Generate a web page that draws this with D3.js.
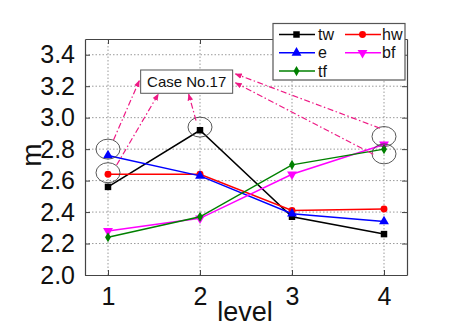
<!DOCTYPE html>
<html>
<head>
<meta charset="utf-8">
<script src="https://cdn.jsdelivr.net/npm/d3@7"></script>
<style>
  html, body { margin: 0; padding: 0; background: #fff; }
  svg text { font-family: "Liberation Sans", Arial, sans-serif; fill: #111; }
</style>
</head>
<body>
<svg id="chart" width="474" height="331"></svg>
<script>
// Levels on the x axis
const levels = [1, 2, 3, 4];
const yTicks = [2.0, 2.2, 2.4, 2.6, 2.8, 3.0, 3.2, 3.4];

// Mean response m for each factor at each level
const tw = [2.56, 2.92, 2.37, 2.26];
const hw = [2.64, 2.64, 2.41, 2.42];
const e  = [2.76, 2.63, 2.39, 2.34];
const bf = [2.28, 2.36, 2.64, 2.83];
const tf = [2.24, 2.37, 2.70, 2.80];

const seriesNames  = ["tw", "hw", "e", "bf", "tf"];
const seriesValues = [tw, hw, e, bf, tf];
const seriesColors = ["#000000", "#ff0000", "#0000ff", "#ff00ff", "#008000"];
const seriesMarks  = ["square", "circle", "triangle", "triangleDown", "diamond"];

// Highlighted points (level, m) and the callout label
const calloutText = "Case No.17";
const calloutBox = { x0: 1.355, x1: 2.355, y0: 3.155, y1: 3.303 };
const highlightPts = [[1, 2.80], [1, 2.65], [2, 2.94], [4, 2.88], [4, 2.77]];
// Arrows: [fromLevel, fromM, toLevel, toM]
const arrows = [
  [1.06, 2.858, 1.34, 3.235],
  [1.094, 2.699, 1.547, 3.150],
  [1.957, 2.981, 1.877, 3.150],
  [3.957, 2.933, 2.385, 3.278],
  [3.884, 2.767, 2.385, 3.222]
];

const svg = d3.select("#chart");
const L = 85, R = 407, T = 39, B = 275;

const x = d3.scaleLinear().domain([0.75, 4.25]).range([L, R]);
const y = d3.scaleLinear().domain([2.0, 3.5]).range([B, T]);

// dotted grid
const grid = svg.append("g");
grid.selectAll("line.gx").data(levels).join("line")
  .attr("x1", d => x(d)).attr("x2", d => x(d)).attr("y1", T).attr("y2", B)
  .attr("stroke", "#9a9a9a").attr("stroke-width", 1).attr("stroke-dasharray", "1.5,2");
grid.selectAll("line.gy").data(yTicks.slice(1)).join("line")
  .attr("x1", L).attr("x2", R).attr("y1", d => y(d)).attr("y2", d => y(d))
  .attr("stroke", "#9a9a9a").attr("stroke-width", 1).attr("stroke-dasharray", "1.5,2");

// axes with inward ticks
const axB = svg.append("g").attr("transform", `translate(0,${B})`)
  .call(d3.axisBottom(x).tickValues(levels).tickSizeInner(-5).tickSizeOuter(0).tickPadding(12).tickFormat(d3.format("d")));
const axT = svg.append("g").attr("transform", `translate(0,${T})`)
  .call(d3.axisTop(x).tickValues(levels).tickSizeInner(-5).tickSizeOuter(0).tickFormat(""));
const axL = svg.append("g").attr("transform", `translate(${L},0)`)
  .call(d3.axisLeft(y).tickValues(yTicks).tickSizeInner(-5).tickSizeOuter(0).tickPadding(10).tickFormat(d3.format(".1f")));
const axR = svg.append("g").attr("transform", `translate(${R},0)`)
  .call(d3.axisRight(y).tickValues(yTicks).tickSizeInner(-5).tickSizeOuter(0).tickFormat(""));

[axB, axT, axL, axR].forEach(a => {
  a.select(".domain").attr("stroke", "#444").attr("stroke-width", 1.2);
  a.selectAll(".tick line").attr("stroke", "#444");
});
axB.selectAll(".tick text").attr("font-size", 25).attr("fill", "#111")
  .attr("font-family", "Liberation Sans, Arial, sans-serif").attr("dy", "0.71em");
axL.selectAll(".tick text").attr("font-size", 25).attr("fill", "#111")
  .attr("font-family", "Liberation Sans, Arial, sans-serif");

// axis titles
svg.append("text").attr("x", 245).attr("y", 321).attr("text-anchor", "middle")
  .attr("font-size", 27).text("level");
svg.append("text").attr("transform", "translate(41,155) rotate(-90)")
  .attr("text-anchor", "middle").attr("font-size", 28).text("m");

// marker symbols
const symbolMap = {
  square: d3.symbolSquare, circle: d3.symbolCircle, triangle: d3.symbolTriangle,
  triangleDown: d3.symbolTriangle, diamond: d3.symbolDiamond
};
const symbolSize = { square: 42, circle: 38, triangle: 42, triangleDown: 42, diamond: 30 };
function marker(sel, kind, color) {
  sel.attr("d", d3.symbol().type(symbolMap[kind]).size(symbolSize[kind]))
    .attr("fill", color).attr("stroke", "none");
}

// series lines and markers
const line = d3.line().x((d, i) => x(levels[i])).y(d => y(d));
seriesValues.forEach((vals, si) => {
  const g = svg.append("g");
  g.append("path").datum(vals).attr("d", line)
    .attr("fill", "none").attr("stroke", seriesColors[si]).attr("stroke-width", 1.5);
  g.selectAll("path.m").data(vals).join("path").attr("class", "m")
    .call(marker, seriesMarks[si], seriesColors[si])
    .attr("transform", (d, i) => `translate(${x(levels[i])},${y(d)})` +
      (seriesMarks[si] === "triangleDown" ? " rotate(180)" : ""));
});

// highlight ellipses
svg.append("g").selectAll("ellipse").data(highlightPts).join("ellipse")
  .attr("cx", d => x(d[0])).attr("cy", d => y(d[1]))
  .attr("rx", 12).attr("ry", 10)
  .attr("fill", "none").attr("stroke", "#444").attr("stroke-width", 0.9);

// arrows pointing at the callout
const defs = svg.append("defs");
defs.append("marker").attr("id", "ah").attr("viewBox", "0 0 10 10")
  .attr("refX", 9).attr("refY", 5).attr("markerWidth", 7).attr("markerHeight", 7)
  .attr("markerUnits", "userSpaceOnUse").attr("orient", "auto")
  .append("path").attr("d", "M0,1 L10,5 L0,9 Z").attr("fill", "#ee1a85");
svg.append("g").selectAll("line").data(arrows).join("line")
  .attr("x1", d => x(d[0])).attr("y1", d => y(d[1]))
  .attr("x2", d => x(d[2])).attr("y2", d => y(d[3]))
  .attr("stroke", "#ee1a85").attr("stroke-width", 1.2)
  .attr("stroke-dasharray", "6,2.5,1.5,2.5").attr("marker-end", "url(#ah)");

// callout box
svg.append("rect")
  .attr("x", x(calloutBox.x0)).attr("y", y(calloutBox.y1))
  .attr("width", x(calloutBox.x1) - x(calloutBox.x0))
  .attr("height", y(calloutBox.y0) - y(calloutBox.y1))
  .attr("fill", "#fff").attr("stroke", "#555").attr("stroke-width", 1);
svg.append("text")
  .attr("x", (x(calloutBox.x0) + x(calloutBox.x1)) / 2)
  .attr("y", (y(calloutBox.y0) + y(calloutBox.y1)) / 2 + 5.5)
  .attr("text-anchor", "middle").attr("font-size", 15).text(calloutText);

// legend
const lg = svg.append("g").attr("transform", "translate(273,23.5)");
lg.append("rect").attr("width", 132).attr("height", 56.5)
  .attr("fill", "#fff").attr("stroke", "#555").attr("stroke-width", 1.2);
const legendPos = [[0, 0], [1, 0], [0, 1], [1, 1], [0, 2]];
seriesNames.forEach((name, si) => {
  const [c, r] = legendPos[si];
  const gx = c === 0 ? 6 : 72, gy = 11 + r * 18.3;
  const item = lg.append("g").attr("transform", `translate(${gx},${gy})`);
  item.append("line").attr("x1", 0).attr("x2", 36).attr("y1", 0).attr("y2", 0)
    .attr("stroke", seriesColors[si]).attr("stroke-width", 1.5);
  item.append("path").call(marker, seriesMarks[si], seriesColors[si])
    .attr("transform", "translate(17.5,0)" + (seriesMarks[si] === "triangleDown" ? " rotate(180)" : ""));
  item.append("text").attr("x", c === 0 ? 39 : 37).attr("y", 5.5)
    .attr("font-size", 16).text(name);
});
</script>
</body>
</html>
